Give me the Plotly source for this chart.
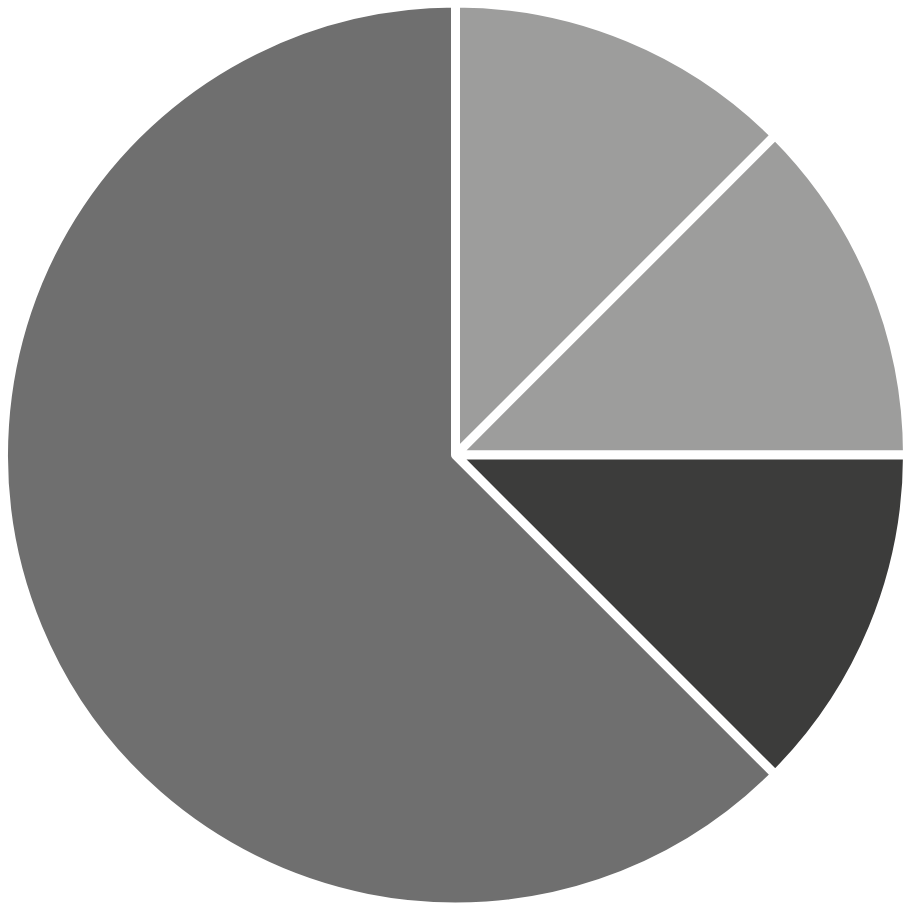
import plotly.graph_objects as go

# slice shares, clockwise from 12 o'clock
labels = ['A', 'B', 'C', 'D']
values = [12.5, 12.5, 12.5, 62.5]
colors = ['#9d9d9c', '#9d9d9c', '#3c3c3b', '#6f6f6f']

W = 912
fig = go.Figure(data=[go.Pie(labels=labels, values=values, sort=False,
                             direction='clockwise', rotation=0,
                             domain=dict(x=[3.5 / W, 907.5 / W], y=[5 / W, 909 / W]))])
fig.update_traces(textinfo='none', hoverinfo='label+percent',
                  marker=dict(colors=colors, line=dict(color='white', width=9)))
fig.update_layout(width=W, height=W, showlegend=False,
                  margin=dict(l=0, r=0, t=0, b=0),
                  paper_bgcolor='white', plot_bgcolor='white')
# drop the browser's default body margin so the figure sits at the page corner
fig.write_html("out.html", config={'displayModeBar': False},
               post_script="document.body.style.margin='0';")
